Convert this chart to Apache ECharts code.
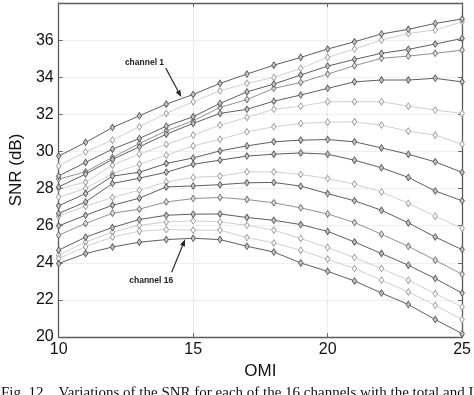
<!DOCTYPE html>
<html><head><meta charset="utf-8">
<script src="https://cdn.jsdelivr.net/npm/echarts@6/dist/echarts.min.js"></script>
<style>html,body{margin:0;padding:0;background:#fff}#c{width:474px;height:395px}</style>
</head><body><div id="c"></div>
<script>
// OMI values (x axis)
const omi = [10,11,12,13,14,15,16,17,18,19,20,21,22,23,24,25];
// SNR (dB) curves, top to bottom
const ch01 = [29.75,30.49,31.29,31.92,32.55,33.07,33.67,34.17,34.65,35.07,35.52,35.91,36.33,36.58,36.90,37.14];
const ch02 = [29.22,29.98,30.61,31.33,32.05,32.68,33.27,33.67,33.99,34.48,35.07,35.52,36.00,36.36,36.54,36.99];
const ch03 = [28.68,29.41,30.12,30.70,31.36,31.87,32.59,33.21,33.63,34.12,34.60,34.96,35.29,35.50,35.79,36.09];
const ch04 = [28.51,28.90,29.68,30.43,31.11,31.65,32.37,32.80,33.40,33.72,34.17,34.62,35.02,35.14,35.29,35.46];
const ch05 = [28.09,28.78,29.57,30.25,30.93,31.51,32.05,32.27,32.71,33.04,33.40,33.75,33.85,33.85,33.94,33.75];
const ch06 = [28.00,28.34,29.26,29.85,30.38,30.88,31.42,31.83,32.27,32.44,32.68,32.68,32.68,32.44,32.23,32.05];
const ch07 = [27.54,28.00,28.81,29.31,29.80,30.30,30.65,31.06,31.33,31.51,31.58,31.60,31.42,31.09,30.88,30.39];
const ch08 = [27.07,27.73,28.67,28.88,29.35,29.65,30.03,30.30,30.52,30.61,30.64,30.52,30.19,29.85,29.44,28.87];
const ch09 = [26.66,27.28,28.27,28.56,28.88,29.31,29.53,29.75,29.85,29.92,29.85,29.53,29.12,28.60,27.87,27.34];
const ch10 = [26.51,27.05,27.52,27.91,28.36,28.60,28.67,28.90,28.90,28.76,28.54,28.24,27.82,27.20,26.51,25.85];
const ch11 = [25.99,26.56,27.10,27.48,28.09,28.14,28.21,28.31,28.33,28.13,27.73,27.34,26.83,26.15,25.39,24.71];
const ch12 = [25.49,26.12,26.67,26.89,27.28,27.46,27.52,27.41,27.23,26.96,26.63,26.17,25.54,24.89,24.14,23.38];
const ch13 = [24.68,25.38,25.90,26.33,26.56,26.62,26.63,26.44,26.29,26.06,25.69,25.12,24.50,23.87,23.15,22.37];
const ch14 = [24.41,25.12,25.66,26.02,26.20,26.26,26.20,26.02,25.76,25.31,24.82,24.28,23.69,23.06,22.34,21.62];
const ch15 = [24.23,24.87,25.39,25.70,25.79,25.76,25.76,25.36,25.07,24.68,24.19,23.69,23.06,22.43,21.71,20.94];
const ch16 = [23.96,24.50,24.85,25.11,25.25,25.32,25.25,24.89,24.58,23.99,23.54,23.02,22.37,21.75,20.94,20.18];
const curves = [ch01,ch02,ch03,ch04,ch05,ch06,ch07,ch08,ch09,ch10,ch11,ch12,ch13,ch14,ch15,ch16];
// line shade per curve: D dark, M medium, L light
const shades = ['D','L','D','M','D','L','L','D','D','L','D','M','D','L','L','D'];
const xTicks = [10,15,20,25];
const yTicks = [20,22,24,26,28,30,32,34,36];
const caption = 'Fig. 12.   Variations of the SNR for each of the 16 channels with the total and I';

const shadeStyle = {
  D: {line:'#5e5e5e', border:'#5a5a5a', fill:'#c4c4c4'},
  M: {line:'#909090', border:'#707070', fill:'#dedede'},
  L: {line:'#cfcfcf', border:'#9a9a9a', fill:'#ffffff'}
};
const FONT = 'Liberation Sans';
const chart = echarts.init(document.getElementById('c'), null, {renderer:'canvas'});

const series = curves.map((arr, i) => {
  const s = shadeStyle[shades[i]];
  return {
    type:'line', name:'c'+(i+1), xAxisIndex:0, yAxisIndex:0,
    data: omi.map((x, j) => [x, arr[j]]),
    symbol:'diamond', symbolSize:[4.5,6.5], showSymbol:true,
    lineStyle:{color:s.line, width:1},
    itemStyle:{color:s.fill, borderColor:s.border, borderWidth:0.9},
    z: shades[i]==='D' ? 3 : 2,
    emphasis:{disabled:true}
  };
});

const axisLine = {show:true, lineStyle:{color:'#5a5a5a', width:1.3}};
const tick = {show:true, inside:true, length:4, lineStyle:{color:'#666', width:1}};
const grid = {left:49, right:7, top:3, bottom:58};

chart.setOption({
  animation:false,
  backgroundColor:'#fff',
  grid: grid,
  xAxis:[
    {type:'value', min:10, max:25, interval:5, position:'bottom',
     axisLine:axisLine, axisTick:tick,
     axisLabel:{color:'#111', fontFamily:FONT, fontSize:16, margin:5},
     splitLine:{show:true, lineStyle:{color:'#dedede', type:'dotted', width:1}},
     name:'OMI', nameLocation:'middle', nameGap:19,
     nameTextStyle:{color:'#111', fontFamily:FONT, fontSize:17}},
    {type:'value', min:10, max:25, interval:5, position:'top',
     axisLine:axisLine, axisTick:tick, axisLabel:{show:false}, splitLine:{show:false}}
  ],
  yAxis:[
    {type:'value', min:20, max:38, interval:2, position:'left',
     axisLine:axisLine, axisTick:tick,
     axisLabel:{color:'#111', fontFamily:FONT, fontSize:16, margin:5,
       formatter: v => (yTicks.indexOf(v) >= 0 ? String(v) : '')},
     splitLine:{show:true, lineStyle:{color:'#dedede', type:'dotted', width:1}},
     name:'SNR (dB)', nameLocation:'middle', nameGap:28, nameRotate:90,
     nameTextStyle:{color:'#111', fontFamily:FONT, fontSize:17}},
    {type:'value', min:20, max:38, interval:2, position:'right',
     axisLine:axisLine, axisTick:tick, axisLabel:{show:false}, splitLine:{show:false}}
  ],
  series: series
});

// annotations in data coordinates
const notes = [
  {text:'channel 1', at:[13.19,34.76], from:[13.98,34.49], to:[14.56,32.93]},
  {text:'channel 16', at:[13.44,23.02], from:[14.20,23.49], to:[14.70,25.27]}
];
const g = [];
notes.forEach(n => {
  const p = chart.convertToPixel({gridIndex:0}, n.at);
  const a = chart.convertToPixel({gridIndex:0}, n.from);
  const b = chart.convertToPixel({gridIndex:0}, n.to);
  g.push({type:'text', x:p[0], y:p[1], z:10,
    style:{text:n.text, fill:'#222', font:'bold 8.5px "Liberation Sans"', textAlign:'center', textVerticalAlign:'middle'}});
  const ang = Math.atan2(b[1]-a[1], b[0]-a[0]);
  const hl = 7, hw = 2.6;
  const bx = b[0]-hl*Math.cos(ang), by = b[1]-hl*Math.sin(ang);
  g.push({type:'line', z:10, shape:{x1:a[0], y1:a[1], x2:bx, y2:by}, style:{stroke:'#222', lineWidth:1.1}});
  g.push({type:'polygon', z:10, shape:{points:[
    [b[0], b[1]],
    [bx + hw*Math.sin(ang), by - hw*Math.cos(ang)],
    [bx - hw*Math.sin(ang), by + hw*Math.cos(ang)]]}, style:{fill:'#222'}});
});
g.push({type:'text', left:1, top:386, z:10,
  style:{text:caption, fill:'#111', font:'15px "Liberation Serif"'}});
chart.setOption({graphic:g});
</script>
</body></html>
